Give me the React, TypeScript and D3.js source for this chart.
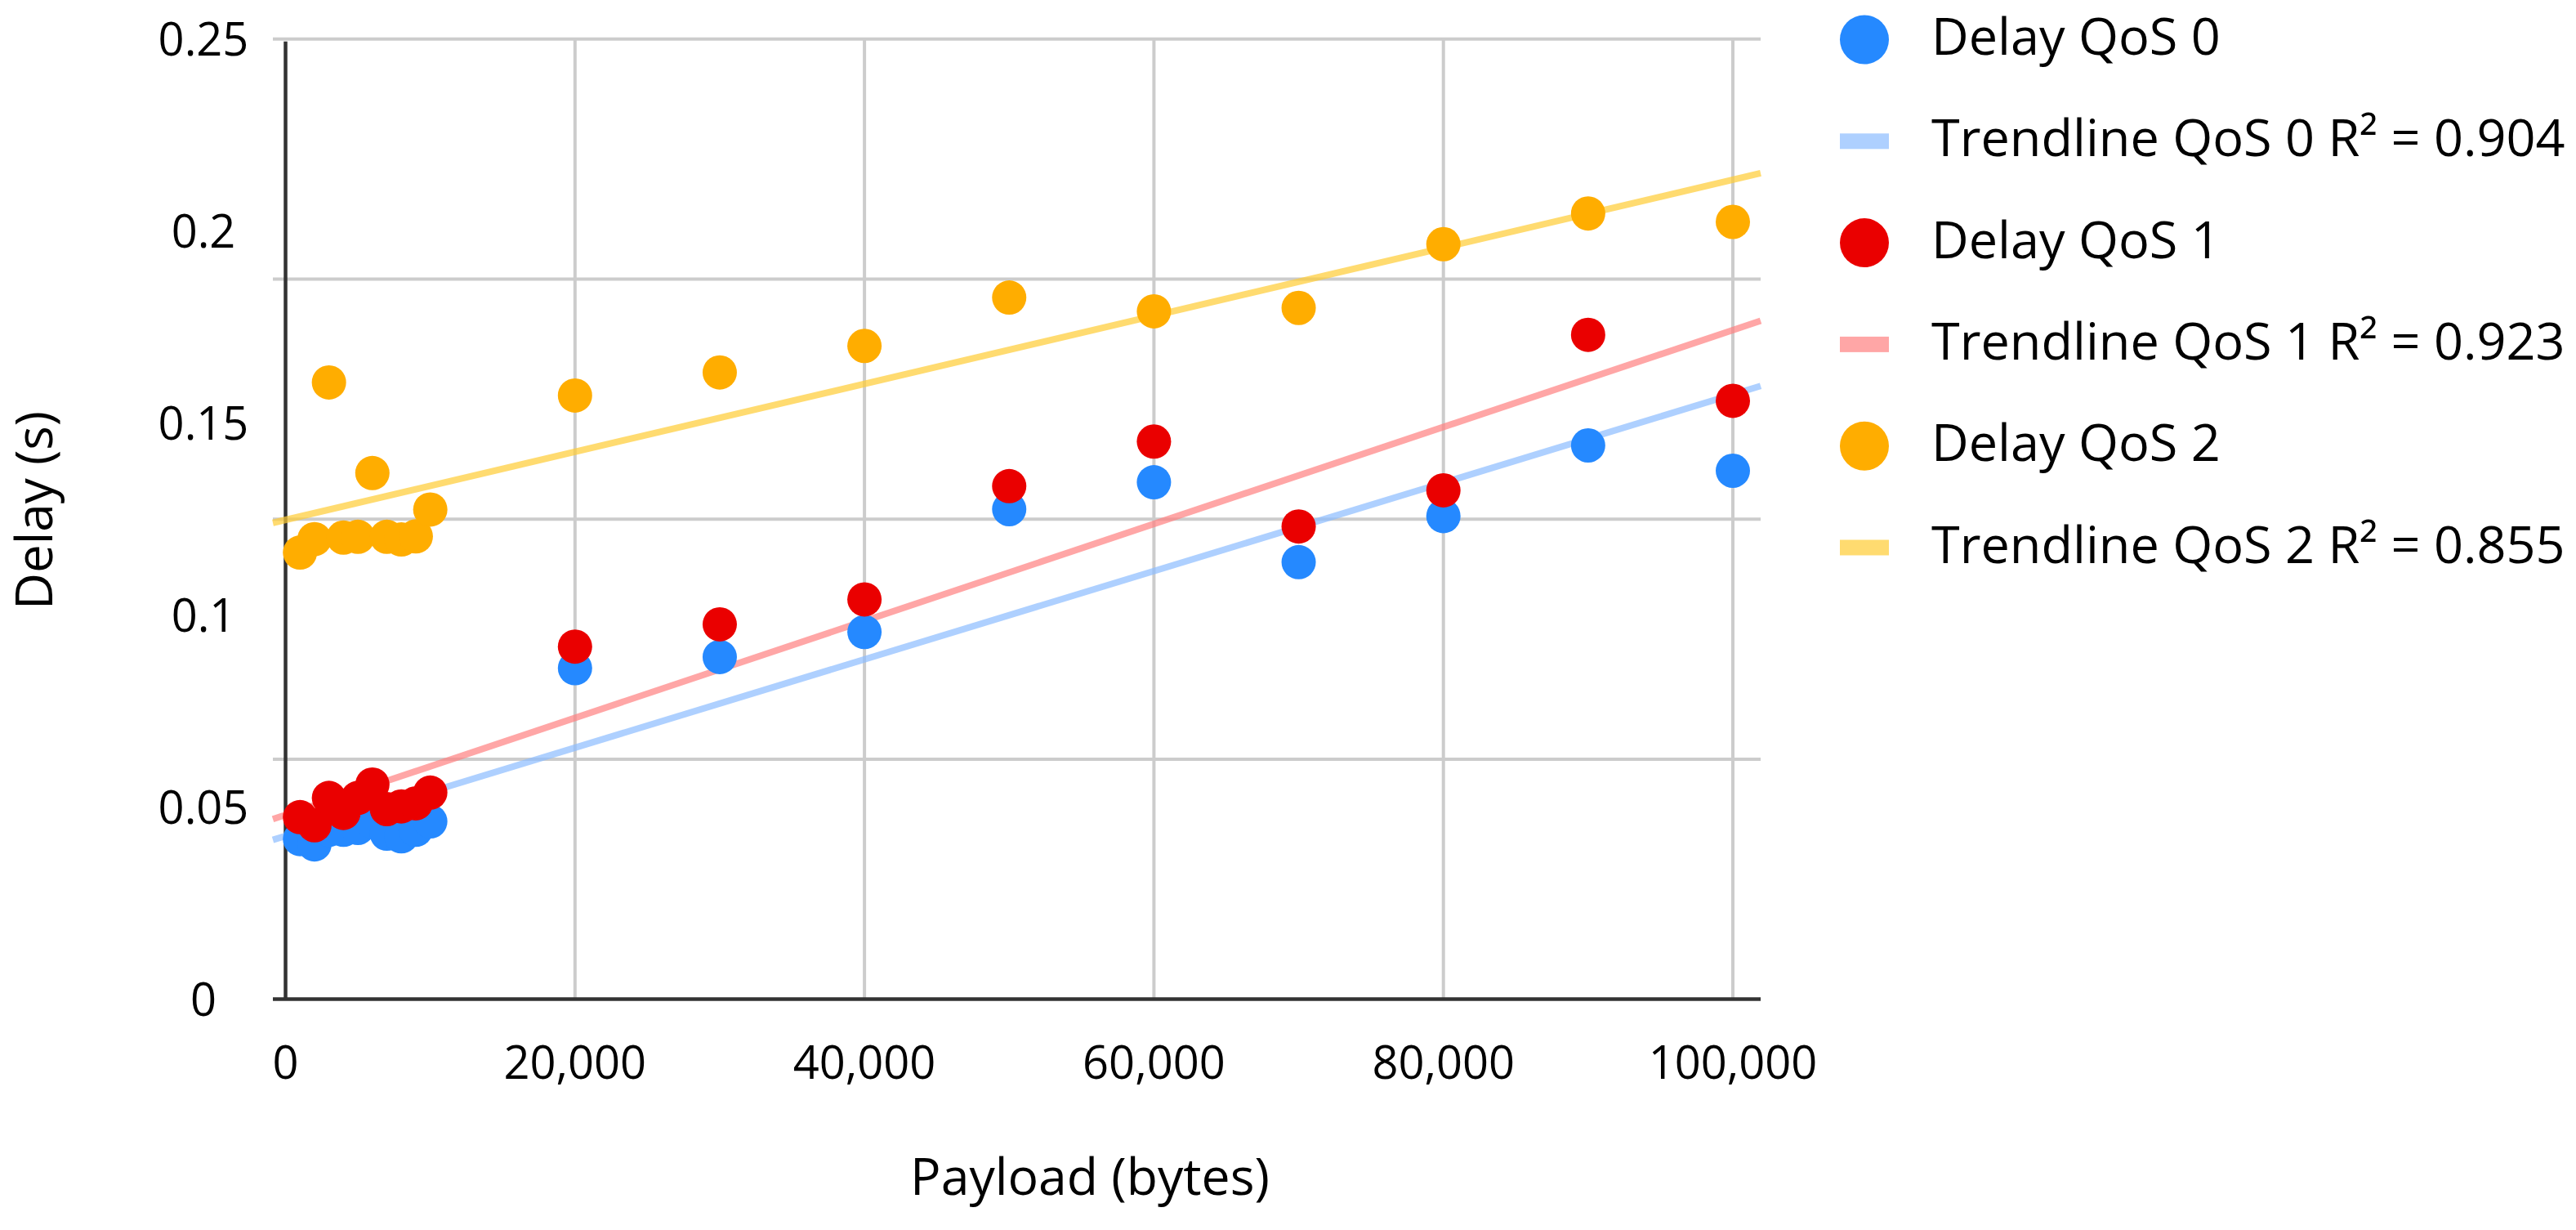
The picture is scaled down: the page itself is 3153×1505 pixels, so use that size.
import * as d3 from "d3";

// Payload sizes (bytes) shared by all three series
const payload = [
  1000, 2000, 3000, 4000, 5000, 6000, 7000, 8000, 9000, 10000,
  20000, 30000, 40000, 50000, 60000, 70000, 80000, 90000, 100000,
];

// Measured delay (s) per QoS level
const delayQoS0 = [
  0.0417, 0.0403, 0.0441, 0.0441, 0.0446, 0.0463, 0.0431, 0.0424, 0.0441, 0.0463,
  0.0862, 0.0891, 0.0956, 0.1276, 0.1346, 0.1138, 0.1258, 0.1442, 0.1376,
];
const delayQoS1 = [
  0.0474, 0.0453, 0.0524, 0.0485, 0.0524, 0.0559, 0.0495, 0.0502, 0.051, 0.0538,
  0.0918, 0.0976, 0.1041, 0.1336, 0.1452, 0.1231, 0.1325, 0.173, 0.1558,
];
const delayQoS2 = [
  0.1163, 0.1198, 0.1606, 0.1202, 0.1204, 0.137, 0.1204, 0.1197, 0.1205, 0.1275,
  0.1572, 0.1632, 0.1701, 0.1827, 0.1791, 0.18, 0.1966, 0.2046, 0.2024,
];

const seriesNames = ["Delay QoS 0", "Delay QoS 1", "Delay QoS 2"];
const trendNames = [
  "Trendline QoS 0 R\u00b2 = 0.904",
  "Trendline QoS 1 R\u00b2 = 0.923",
  "Trendline QoS 2 R\u00b2 = 0.855",
];

const xTicks = [0, 20000, 40000, 60000, 80000, 100000];
const yTicks = [0, 0.05, 0.1, 0.15, 0.2, 0.25];
const yGrid = [0.0625, 0.125, 0.1875, 0.25];

const colors = ["#2589ff", "#ea0000", "#ffad00"];
const trendColors = ["#8cbcff", "#ff8080", "#ffcc33"];

const W = 3153;
const H = 1505;
const plotLeft = 334;
const plotRight = 2155;
const font = "'Open Sans', 'Noto Sans', sans-serif";

// least squares fit, same as the sheet's linear trendline
function fit(xs: number[], ys: number[]) {
  const mx = d3.mean(xs)!;
  const my = d3.mean(ys)!;
  const sxy = d3.sum(xs, (v, i) => (v - mx) * (ys[i] - my));
  const sxx = d3.sum(xs, (v) => (v - mx) * (v - mx));
  const slope = sxy / sxx;
  return { slope, intercept: my - slope * mx };
}

export default function App() {
  const x = d3.scaleLinear().domain([0, 100000]).range([349.5, 2121]);
  const y = d3.scaleLinear().domain([0, 0.25]).range([1222.6, 47.8]);

  const series = [delayQoS0, delayQoS1, delayQoS2];
  const x0 = x.invert(plotLeft);
  const x1 = x.invert(plotRight);
  const line = d3.line<[number, number]>().x((d) => x(d[0])).y((d) => y(d[1]));

  const legendRows = seriesNames.flatMap((n, i) => [
    { label: n, kind: "dot", i },
    { label: trendNames[i], kind: "trend", i },
  ]);

  return (
    <svg
      width={W}
      height={H}
      style={{ position: "absolute", left: 0, top: 0, background: "#fff" }}
      fontFamily={font}
    >
      {/* grid */}
      {yGrid.map((v) => (
        <line key={v} x1={plotLeft} x2={plotRight} y1={y(v)} y2={y(v)} stroke="#cccccc" strokeWidth={4} />
      ))}
      {xTicks.slice(1).map((v) => (
        <line key={v} x1={x(v)} x2={x(v)} y1={y(0.25)} y2={y(0)} stroke="#cccccc" strokeWidth={4} />
      ))}

      {/* axes */}
      <line x1={x(0)} x2={x(0)} y1={y(0.25) + 3} y2={y(0)} stroke="#333" strokeWidth={4.5} />
      <line x1={plotLeft} x2={plotRight} y1={y(0)} y2={y(0)} stroke="#333" strokeWidth={4.5} />

      {/* trendlines */}
      {series.map((ys, i) => {
        const { slope, intercept } = fit(payload, ys);
        const pts: [number, number][] = [
          [x0, intercept + slope * x0],
          [x1, intercept + slope * x1],
        ];
        return (
          <path key={i} d={line(pts)!} stroke={trendColors[i]} strokeOpacity={0.7} strokeWidth={8} fill="none" />
        );
      })}

      {/* points */}
      {series.map((ys, i) => (
        <g key={i} fill={colors[i]}>
          {ys.map((v, j) => (
            <circle key={j} cx={x(payload[j])} cy={y(v)} r={21} />
          ))}
        </g>
      ))}

      {/* tick labels */}
      {yTicks.map((v) => (
        <text key={v} x={249} y={y(v)} dy="0.36em" textAnchor="middle" fontSize={56} fill="#000">
          {d3.format("~g")(v)}
        </text>
      ))}
      {xTicks.map((v) => (
        <text key={v} x={x(v)} y={1320} textAnchor="middle" fontSize={56} fill="#000">
          {d3.format(",")(v)}
        </text>
      ))}

      {/* axis titles */}
      <text transform="translate(64,624.5) rotate(-90)" textAnchor="middle" fontSize={62} fill="#000">
        Delay (s)
      </text>
      <text x={1334} y={1462} textAnchor="middle" fontSize={62.5} fill="#000">
        Payload (bytes)
      </text>

      {/* legend */}
      {legendRows.map((r, k) => {
        const cy = 48.5 + k * 124.3;
        return (
          <g key={k}>
            {r.kind === "dot" ? (
              <circle cx={2282} cy={cy} r={30} fill={colors[r.i]} />
            ) : (
              <rect x={2252} y={cy - 9.5} width={60} height={19} fill={trendColors[r.i]} fillOpacity={0.7} />
            )}
            <text x={2364} y={cy + 18.5} fontSize={63} fill="#000">
              {r.label}
            </text>
          </g>
        );
      })}
    </svg>
  );
}
